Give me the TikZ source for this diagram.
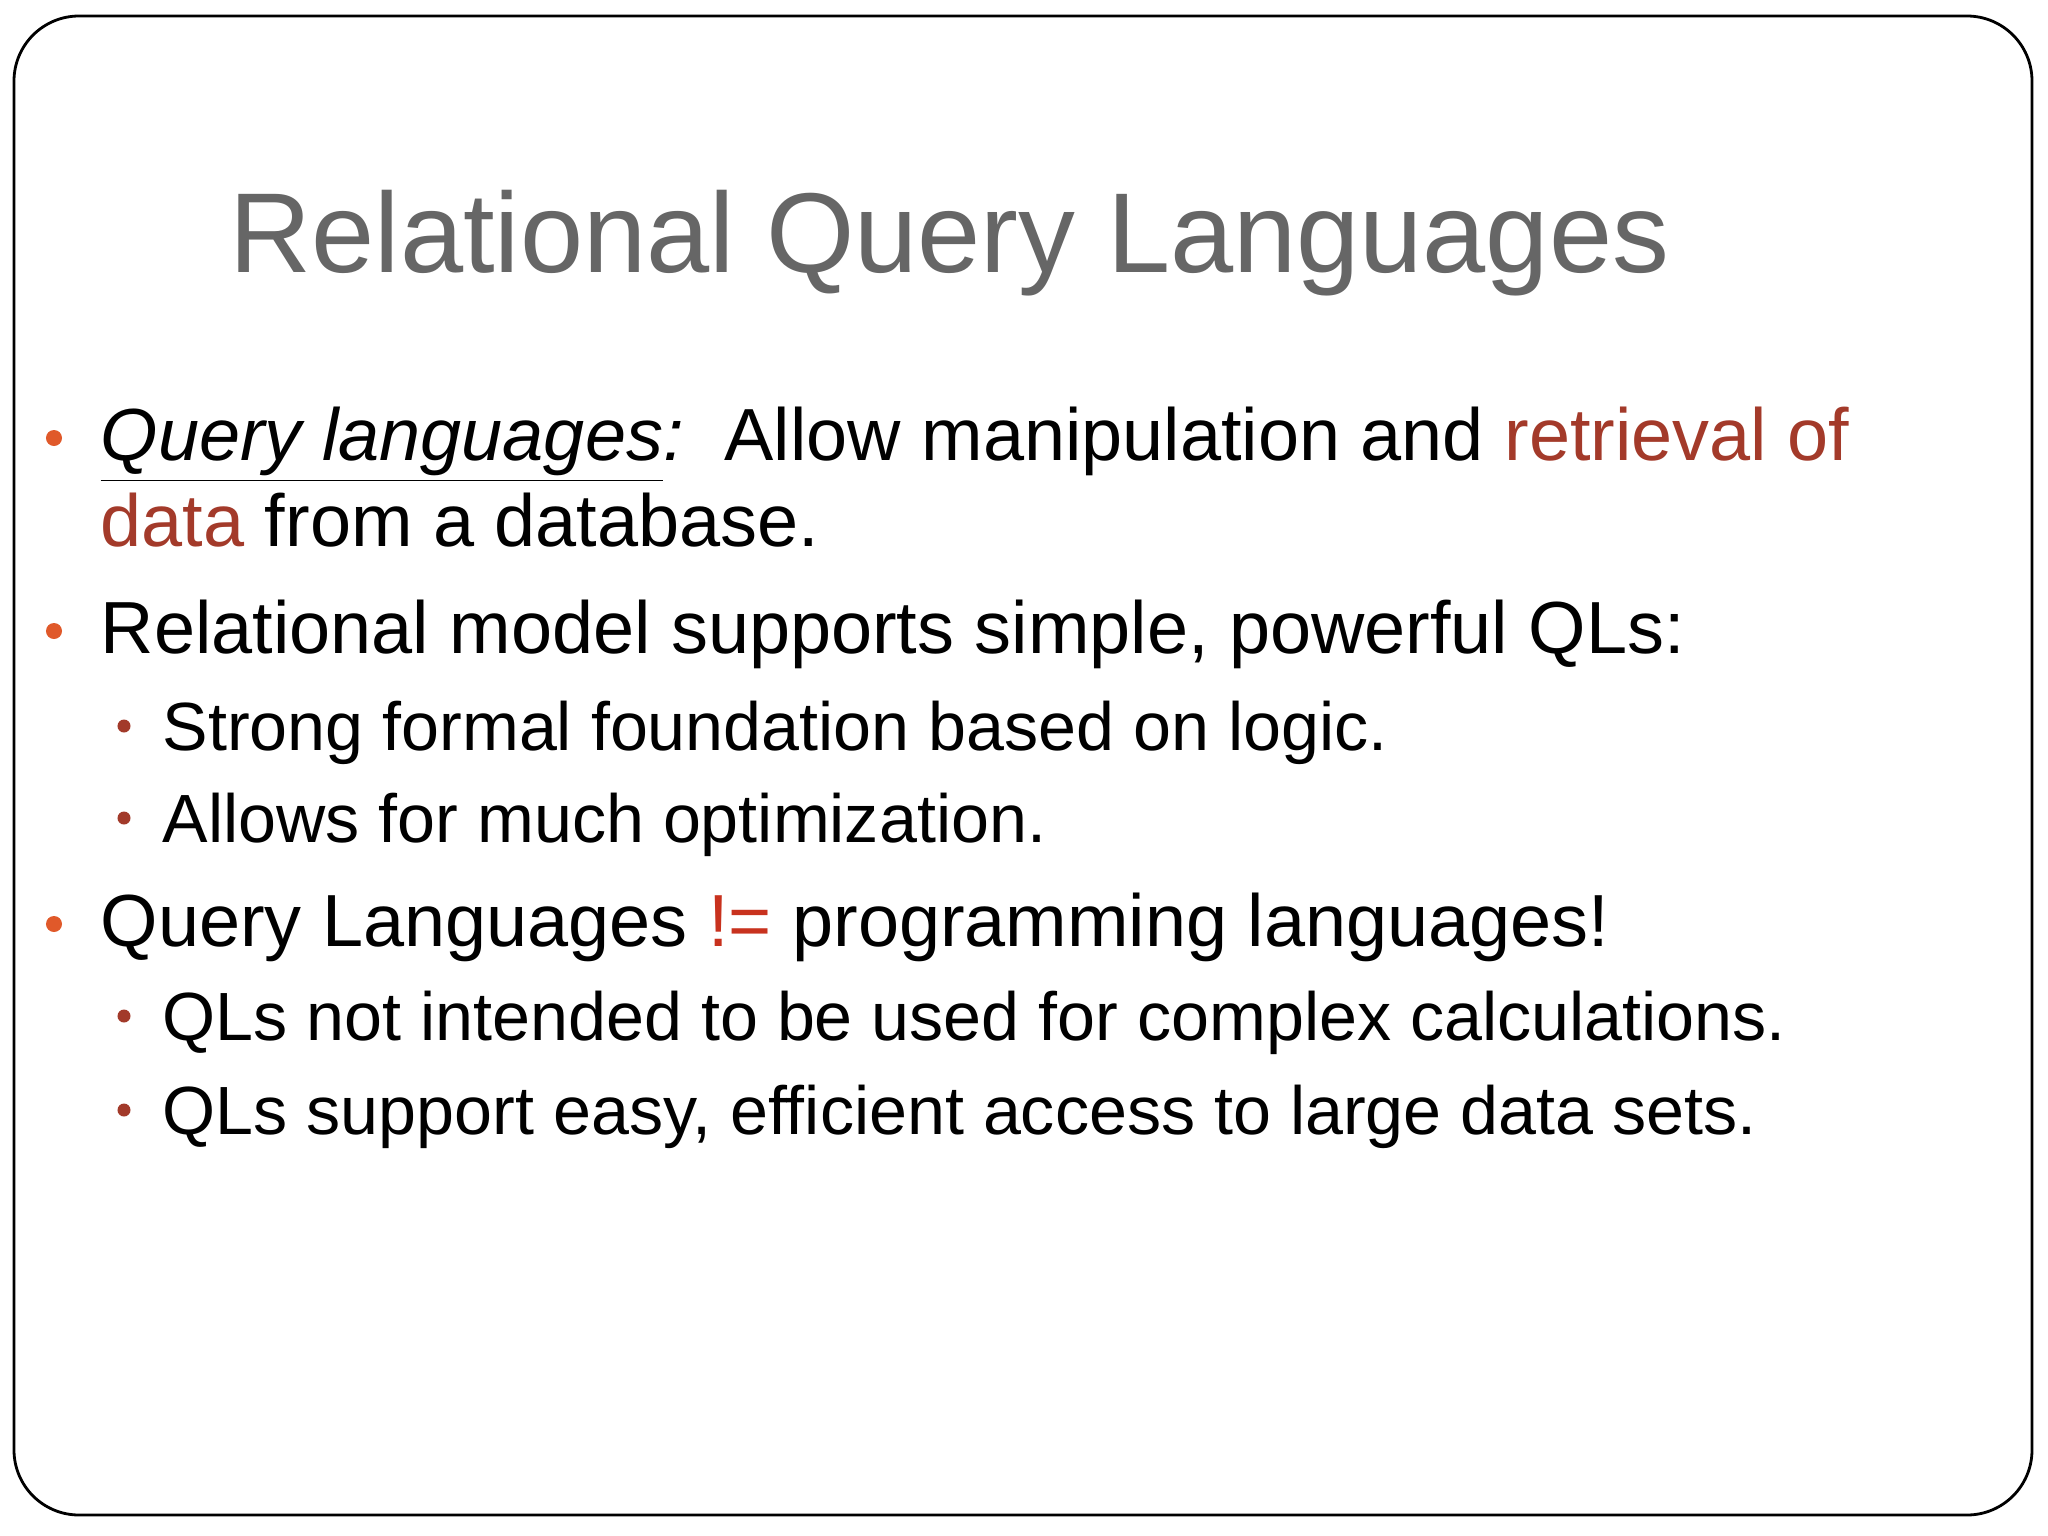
\documentclass[tikz,border=0pt]{standalone}
\usepackage{fontspec}
\setmainfont{Liberation Sans}
\definecolor{ttl}{HTML}{666666}
\definecolor{borange}{HTML}{E0592A}
\definecolor{bred}{HTML}{A23A2A}
\definecolor{tred}{HTML}{A33A2A}
\definecolor{neq}{HTML}{C8321E}
\begin{document}
\begin{tikzpicture}[x=0.01cm,y=-0.01cm,
  main/.style={anchor=base west,inner sep=0,font=\fontsize{21}{25}\selectfont},
  sub/.style={anchor=base west,inner sep=0,font=\fontsize{19.4}{23}\selectfont},
  mdot/.style={fill=borange,draw=none},
  sdot/.style={fill=bred,draw=none}]
\useasboundingbox (0,0) rectangle (2048,1536);
\draw[line width=0.8pt,rounded corners=0.65cm] (14,16) rectangle (2032,1515);
\node[anchor=base west,inner sep=0,text=ttl,font=\fontsize{32.3}{38}\selectfont] (title) at (229,272) {Relational Query Languages};
\node[main] (l1) at (100,460) {\textit{\underline{Query languages}:}\ \ Allow manipulation and \textcolor{tred}{retrieval of}};
\node[main] (l2) at (100,546) {\textcolor{tred}{data} from a database.};
\node[main] (l3) at (100,653) {Relational model supports simple, powerful QLs:};
\node[sub] (l4) at (162,750) {Strong formal foundation based on logic.};
\node[sub] (l5) at (162,842) {Allows for much optimization.};
\node[main] (l6) at (100,946) {Query Languages \textcolor{neq}{!=} programming languages!};
\node[sub] (l7) at (162,1040) {QLs not intended to be used for complex calculations.};
\node[sub] (l8) at (162,1134) {QLs support easy, efficient access to large data sets.};
\fill[mdot] (54,438) circle[radius=0.08cm];
\fill[mdot] (54,631) circle[radius=0.08cm];
\fill[mdot] (54,924) circle[radius=0.08cm];
\fill[sdot] (124,726) circle[radius=0.065cm];
\fill[sdot] (124,818) circle[radius=0.065cm];
\fill[sdot] (124,1016) circle[radius=0.065cm];
\fill[sdot] (124,1110) circle[radius=0.065cm];
\end{tikzpicture}
\end{document}
